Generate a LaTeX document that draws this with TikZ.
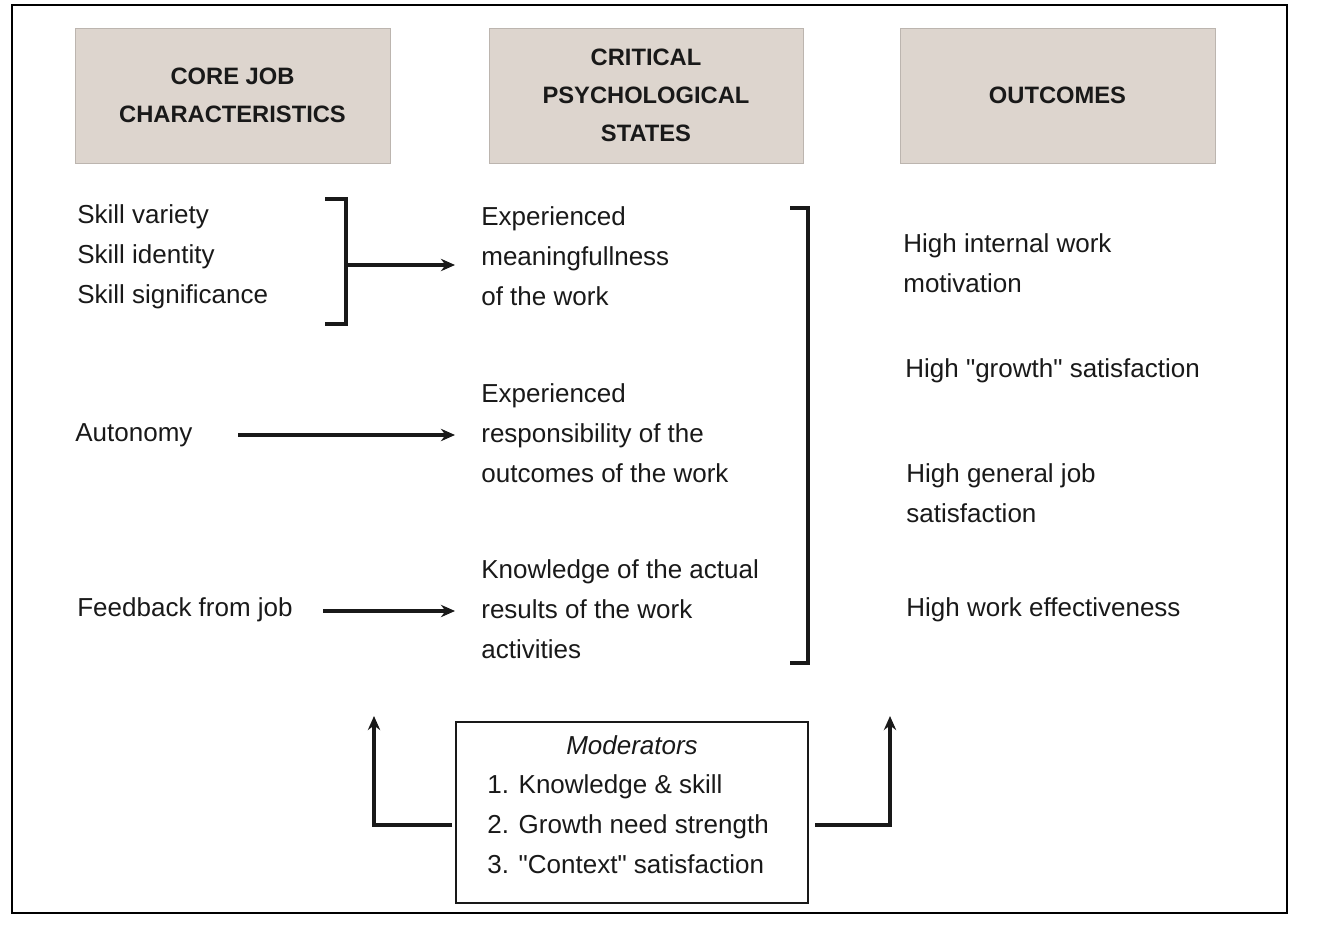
\documentclass[tikz,border=0pt]{standalone}
\usepackage{fontspec}
\setmainfont{Liberation Sans}[Ligatures=TeXOff]
\usetikzlibrary{arrows.meta}
\definecolor{hdr}{RGB}{221,213,206}
\definecolor{ink}{RGB}{25,25,25}
\tikzset{
  hbox/.style={fill=hdr,draw=hdr!85!black,line width=0.4pt,align=center,font=\fontsize{13.5}{21.5}\selectfont\bfseries,text=ink},
  txt/.style={anchor=west,align=left,font=\fontsize{14.8}{22.7}\selectfont,text=ink,inner sep=0pt},
  ln/.style={line width=2pt,draw=ink},
  arr/.style={ln,-{Stealth[length=8pt,width=7pt]}}
}
\begin{document}
\begin{tikzpicture}[x=0.02cm,y=-0.02cm]
\useasboundingbox (0,0) rectangle (1317,925);
\draw[line width=1.6pt] (12,5) rectangle (1287,913);
\node[hbox,minimum width=315*0.02cm,minimum height=135*0.02cm] (h1) at (232.5,95.5) {CORE JOB\\CHARACTERISTICS};
\node[hbox,minimum width=314*0.02cm,minimum height=135*0.02cm] (h2) at (646,95.5) {CRITICAL\\PSYCHOLOGICAL\\STATES};
\node[hbox,minimum width=315*0.02cm,minimum height=135*0.02cm] (h3) at (1057.5,95.5) {OUTCOMES};

\node[txt] (l1) at (77,257) {Skill variety\\Skill identity\\Skill significance};
\node[txt] (l2) at (75,435) {Autonomy};
\node[txt] (l3) at (77,610) {Feedback from job};

\node[txt] (m1) at (481,256) {Experienced\\meaningfullness\\of the work};
\node[txt] (m2) at (481,433) {Experienced\\responsibility of the\\outcomes of the work};
\node[txt] (m3) at (481,609) {Knowledge of the actual\\results of the work\\activities};

\node[txt] (r1) at (903,263) {High internal work\\motivation};
\node[txt] (r2) at (905,371) {High "growth" satisfaction};
\node[txt] (r3) at (906,493) {High general job\\satisfaction};
\node[txt] (r4) at (906,610) {High work effectiveness};

\coordinate (b1) at (346,265);
\coordinate (e1) at (455,265);
\coordinate (s2) at (238,435);
\coordinate (e2) at (455,435);
\coordinate (s3) at (323,611);
\coordinate (e3) at (455,611);
\draw[ln] (325,199) -- (346,199) -- (346,324) -- (325,324);
\draw[arr] (b1) -- (e1);
\draw[arr] (s2) -- (e2);
\draw[arr] (s3) -- (e3);
\draw[ln] (790,208) -- (808,208) -- (808,663) -- (790,663);

\node[draw=ink,line width=1.6pt,minimum width=352*0.02cm,minimum height=181*0.02cm] (mod) at (632,812.5) {};
\node[font=\fontsize{14.8}{22.7}\selectfont\itshape,text=ink] (mt) at (632,745) {Moderators};
\node[txt] (ml) at (487,824) {1. Knowledge \& skill\\2. Growth need strength\\3. "Context" satisfaction};
\coordinate (ua) at (374,716);
\coordinate (ub) at (890,716);
\draw[arr] (452,825) -- (374,825) -- (ua);
\draw[arr] (815,825) -- (890,825) -- (ub);
\end{tikzpicture}
\end{document}
